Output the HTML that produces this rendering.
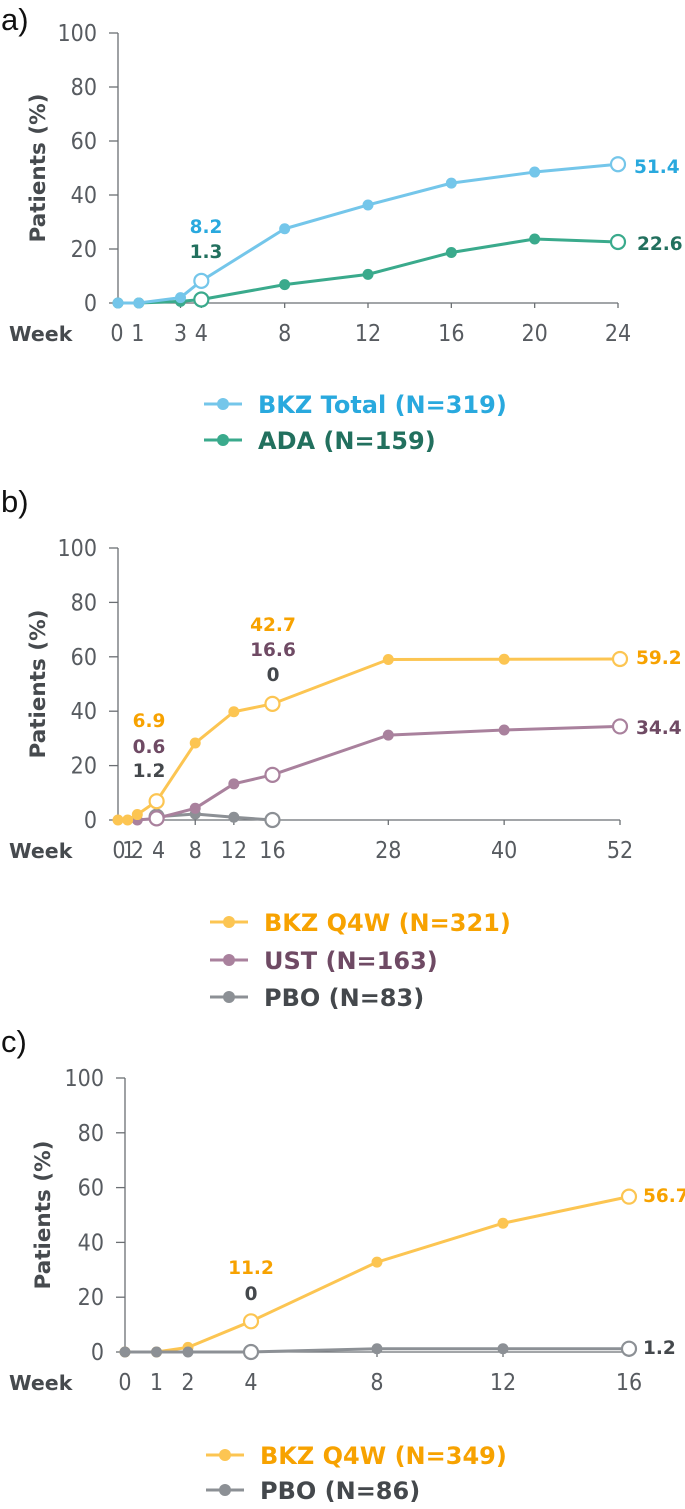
<!DOCTYPE html>
<html><head><meta charset="utf-8"><style>
body{margin:0;background:#fff;}
svg{display:block;}
.tk{font-family:"Liberation Sans Narrow","DejaVu Sans Condensed","Liberation Sans",sans-serif;fill:#575b60;}
.b{font-family:"DejaVu Sans",sans-serif;font-weight:bold;}
</style></head><body>
<svg id="s" width="685" height="1509" viewBox="0 0 685 1509" xmlns="http://www.w3.org/2000/svg"></svg>
<script>
// Panel a data
const aWeeks=[0,1,3,4,8,12,16,20,24];
const aBKZ=[0,0,2,8.2,27.5,36.3,44.4,48.5,51.4];
const aADA=[0,0,0.6,1.3,6.8,10.6,18.7,23.7,22.6];
const aOpen=[4,24];
// Panel b data
const bWeeks=[0,1,2,4,8,12,16,28,40,52];
const bBKZ=[0,0,2,6.9,28.3,39.8,42.7,59,59.1,59.2];
const bUSTWeeks=[2,4,8,12,16,28,40,52];
const bUST=[0,0.6,4.3,13.3,16.6,31.2,33.1,34.4];
const bPBOWeeks=[4,8,12,16];
const bPBO=[1.2,2.2,1,0];
const bOpen=[4,16,52];
// Panel c data
const cWeeks=[0,1,2,4,8,12,16];
const cBKZ=[0,0,1.7,11.2,32.8,47,56.7];
const cPBO=[0,0,0,0,1.2,1.2,1.2];
const cOpen=[4,16];
const yTicks=[0,20,40,60,80,100];

const NS="http://www.w3.org/2000/svg";
const svg=document.getElementById('s');
function mk(tag,attrs,parent){const e=document.createElementNS(NS,tag);for(const k in attrs)e.setAttribute(k,attrs[k]);(parent||svg).appendChild(e);return e;}
function txt(str,x,y,cls,fill,size,anchor,parent){const t=mk('text',{x:x,y:y,class:cls,fill:fill,'font-size':size,'text-anchor':anchor||'start'},parent);t.textContent=str;return t;}

function panel(cfg){
  const g=mk('g',{});
  
  
  const X=w=>cfg.x0+(w/cfg.wmax)*(cfg.x1-cfg.x0);
  const Y=v=>cfg.y0-(v/100)*(cfg.y0-cfg.y100);
  const lab=txt(cfg.letter,1,cfg.letterY,'','#111','31px','start',g);
  lab.setAttribute('font-family','Liberation Sans, sans-serif');
  
  
  const ya=mk('line',{x1:cfg.x0,y1:cfg.y100,x2:cfg.x0,y2:cfg.y0,stroke:'#6b6f73','stroke-width':1.3},g);
  
  
  const xa=mk('line',{x1:cfg.x0,y1:cfg.y0,x2:cfg.x1,y2:cfg.y0,stroke:'#6b6f73','stroke-width':1.3},g);
  
  
  yTicks.forEach(v=>{
    mk('line',{x1:cfg.x0-9,y1:Y(v),x2:cfg.x0,y2:Y(v),stroke:'#6b6f73','stroke-width':1.3},g);
    const t=txt(String(v),cfg.x0-21,Y(v)+8,'tk','#575b60','23px','end',g);
    
    
  });
  cfg.ticks.forEach((w,i)=>{
    mk('line',{x1:X(w),y1:cfg.y0,x2:X(w),y2:cfg.y0+5,stroke:'#6b6f73','stroke-width':1.3},g);
    const t=txt(String(w),X(w)+(cfg.tickDx?cfg.tickDx[i]:0),cfg.y0+38,'tk','#575b60','23px','middle',g);
    
    
  });
  const wk=txt('Week',9,cfg.y0+38,'b','#464a4e','20.5px','start',g);
  
  
  const yt=txt('Patients (%)',0,0,'b','#464a4e','21.5px','middle',g);
  yt.setAttribute('transform','translate('+(cfg.ytx)+','+((cfg.y0+cfg.y100)/2)+') rotate(-90)');
  
  
  cfg.series.forEach(s=>{
    const pts=s.w.map((w,i)=>X(w)+','+Y(s.v[i])).join(' ');
    const pl=mk('polyline',{points:pts,fill:'none',stroke:s.line,'stroke-width':3,'stroke-linejoin':'round'},g);
    
    
    s.w.forEach((w,i)=>{
      const open=cfg.open.indexOf(w)>=0;
      const c=mk('circle',open?{cx:X(w),cy:Y(s.v[i]),r:7,fill:'#fff',stroke:s.line,'stroke-width':2.2}:{cx:X(w),cy:Y(s.v[i]),r:5.5,fill:s.line},g);
      
      
    });
  });
  cfg.labels.forEach(l=>{
    const t=txt(l[0],l[1],l[2],'b',l[3],'18.5px',l[4],g);
    
    
  });
  cfg.legend.forEach(l=>{
    const lg=mk('g',{},g);
    
    
    mk('line',{x1:l.x-19,y1:l.y,x2:l.x+19,y2:l.y,stroke:l.line,'stroke-width':3},lg);
    mk('circle',{cx:l.x,cy:l.y,r:6,fill:l.line},lg);
    txt(l.t,l.x+35,l.y+9,'b',l.col,'24px','start',lg);
  });
}

const cBlue='#74c6ea',tBlue='#29a9de',cTeal='#3aaa8c',tTeal='#22705e',cOr='#fcc552',tOr='#f7a200',cPu='#a9819d',tPu='#6f4a64',cGr='#8c9095',tGr='#44484c';

panel({name:'panel-a-chart',letter:'a)',letterY:30,x0:118,x1:618,wmax:24,y0:303,y100:33,ytx:45,
  ticks:aWeeks,tickDx:[-1,-1,0,0,0,0,0,0,0],open:aOpen,
  series:[{id:'ada',w:aWeeks,v:aADA,line:cTeal},{id:'bkz-total',w:aWeeks,v:aBKZ,line:cBlue}],
  labels:[['8.2',206,233,tBlue,'middle'],['1.3',206,258,tTeal,'middle'],['51.4',634,173,tBlue,'start'],['22.6',637,250,tTeal,'start']],
  legend:[{x:223,y:404,line:cBlue,col:tBlue,t:'BKZ Total (N=319)'},{x:223,y:440,line:cTeal,col:tTeal,t:'ADA (N=159)'}]});

panel({name:'panel-b-chart',letter:'b)',letterY:512,x0:118,x1:620,wmax:52,y0:820,y100:548,ytx:45,
  ticks:bWeeks,tickDx:[1,1,0,2,0,0,0,0,0,0],open:bOpen,
  series:[{id:'pbo',w:bPBOWeeks,v:bPBO,line:cGr},{id:'ust',w:bUSTWeeks,v:bUST,line:cPu},{id:'bkz-q4w',w:bWeeks,v:bBKZ,line:cOr}],
  labels:[['6.9',149,727,tOr,'middle'],['0.6',149,753,tPu,'middle'],['1.2',149,777,tGr,'middle'],['42.7',273,631,tOr,'middle'],['16.6',273,656,tPu,'middle'],['0',273,681,tGr,'middle'],['59.2',636,664,tOr,'start'],['34.4',636,734,tPu,'start']],
  legend:[{x:229,y:922,line:cOr,col:tOr,t:'BKZ Q4W (N=321)'},{x:229,y:960,line:cPu,col:tPu,t:'UST (N=163)'},{x:229,y:997,line:cGr,col:tGr,t:'PBO (N=83)'}]});

panel({name:'panel-c-chart',letter:'c)',letterY:1052,x0:125,x1:629,wmax:16,y0:1352,y100:1078,ytx:50,
  ticks:cWeeks,open:cOpen,
  series:[{id:'bkz-q4w',w:cWeeks,v:cBKZ,line:cOr},{id:'pbo',w:cWeeks,v:cPBO,line:cGr}],
  labels:[['11.2',251,1274,tOr,'middle'],['0',251,1300,tGr,'middle'],['56.7',643,1202,tOr,'start'],['1.2',643,1354,tGr,'start']],
  legend:[{x:225,y:1455,line:cOr,col:tOr,t:'BKZ Q4W (N=349)'},{x:225,y:1490,line:cGr,col:tGr,t:'PBO (N=86)'}]});
</script>
</body></html>
